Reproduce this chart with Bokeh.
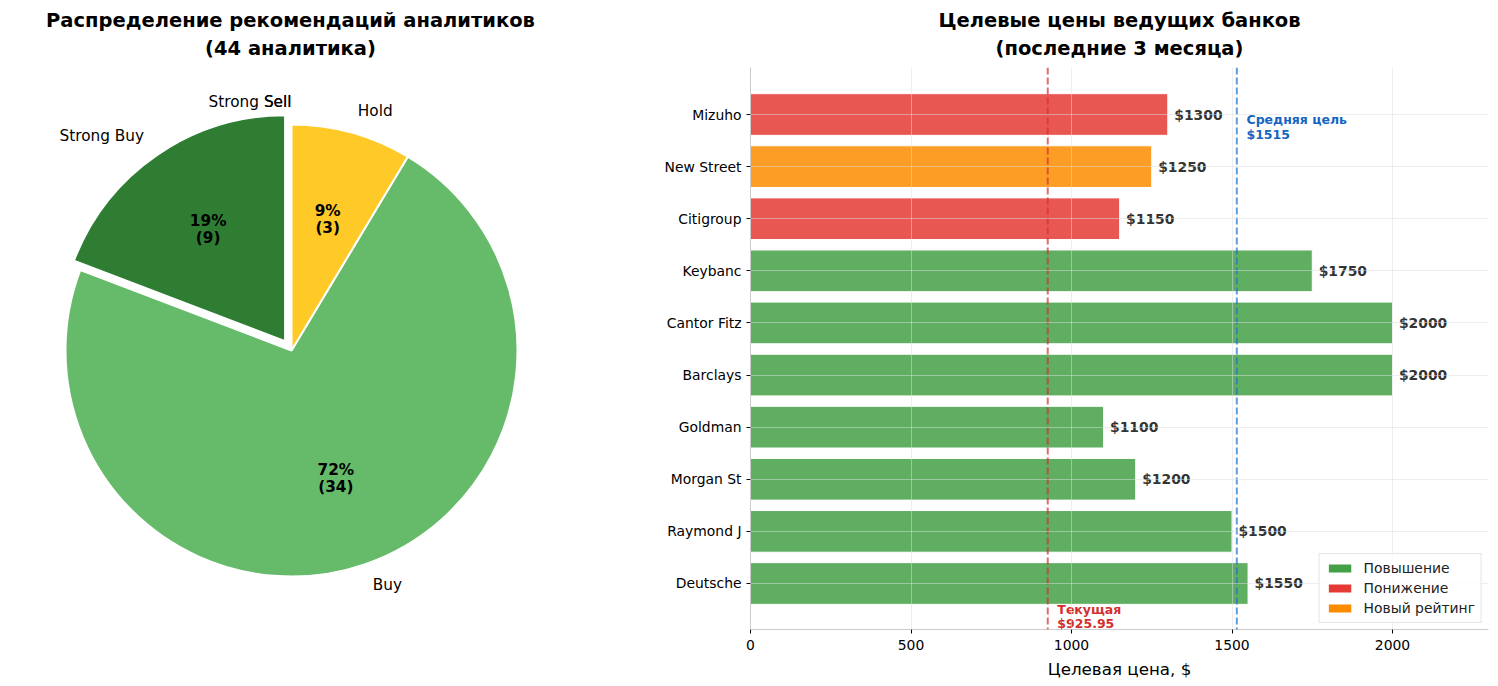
import math
from bokeh.plotting import figure
from bokeh.layouts import row
from bokeh.models import Range1d, FixedTicker, Span, Legend, LegendItem, Label, Title
from bokeh.embed import file_html
from bokeh.resources import INLINE
from bokeh.core.properties import value

FONT = "DejaVu Sans"

# ---------------- data ----------------
rating_labels = ["Strong Buy", "Buy", "Hold", "Sell", "Strong Sell"]
rating_counts = [9, 34, 3, 0, 0]
rating_shares = [19.2, 72.2, 8.6, 0.0, 0.0]
rating_colors = ["#2e7d32", "#66bb6a", "#ffca28", "#ef5350", "#c62828"]
rating_explode = [0.05, 0, 0, 0, 0]
pie_title = ["Распределение рекомендаций аналитиков", "(44 аналитика)"]

banks = ["Deutsche", "Raymond J", "Morgan St", "Goldman", "Barclays",
         "Cantor Fitz", "Keybanc", "Citigroup", "New Street", "Mizuho"]
targets = [1550, 1500, 1200, 1100, 2000, 2000, 1750, 1150, 1250, 1300]
actions = ["up", "up", "up", "up", "up", "up", "up", "down", "new", "down"]
action_names = {"up": "Повышение", "down": "Понижение", "new": "Новый рейтинг"}
action_colors = {"up": "#43a047", "down": "#e53935", "new": "#fb8c00"}
current_price = 925.95
mean_target = 1515
x_ticks = [0, 500, 1000, 1500, 2000]
bar_title = ["Целевые цены ведущих банков", "(последние 3 месяца)"]
x_label = "Целевая цена, $"

# ---------------- layout constants ----------------
W, H = 1496, 684
LW = 580
RW = W - LW
BORDER_TOP = 67
BORDER_BOTTOM = 55
FRAME_H = H - BORDER_TOP - BORDER_BOTTOM


def add_titles(p, lines):
    # lines are stacked outward from the frame: last line first
    for i, txt in enumerate(reversed(lines)):
        t = Title(text=txt, align="center", text_font=FONT, text_font_size="19.5px",
                  text_font_style="bold", text_color="black",
                  standoff=11 if i == 0 else 0,
                  vertical_align="top" if i == 0 else "bottom")
        p.add_layout(t, "above")


# ---------------- pie ----------------
pie = figure(width=LW, height=H, x_range=Range1d(0, LW), y_range=Range1d(0, FRAME_H),
             output_backend="svg", toolbar_location=None, title=None,
             x_axis_location=None, y_axis_location=None,
             min_border_left=0, min_border_right=0,
             min_border_top=BORDER_TOP, min_border_bottom=BORDER_BOTTOM)
add_titles(pie, pie_title)
pie.grid.visible = False
pie.outline_line_color = None

cx, cy, R = 291, 279, 226
start = math.pi / 2
total = sum(rating_shares)
for lab, cnt, sh, col, ex in zip(rating_labels, rating_counts, rating_shares,
                                 rating_colors, rating_explode):
    ang = 2 * math.pi * sh / total
    end = start + ang
    mid = (start + end) / 2
    ox = cx + ex * R * math.cos(mid)
    oy = cy + ex * R * math.sin(mid)
    if sh > 0:
        pie.wedge(x=[ox], y=[oy], radius=R, start_angle=start, end_angle=end,
                  fill_color=col, line_color="white", line_width=2)
        px = ox + 0.6 * R * math.cos(mid)
        py = oy + 0.6 * R * math.sin(mid)
        pie.text(x=[px, px], y=[py + 8.5, py - 8.5],
                 text=[f"{round(sh)}%", f"({cnt})"],
                 text_align="center", text_baseline="middle",
                 text_font=value(FONT), text_font_size="15.3px",
                 text_font_style="bold", text_color="black")
    lx = ox + 1.1 * R * math.cos(mid)
    ly = oy + 1.1 * R * math.sin(mid)
    align = "left" if math.cos(mid) > 1e-9 else "right"
    pie.text(x=[lx], y=[ly], text=[lab], text_align=align, text_baseline="middle",
             text_font=value(FONT), text_font_size="15.3px", text_color="black")
    start = end

# ---------------- bars ----------------
bar = figure(width=RW, height=H, x_range=Range1d(0, 2299), y_range=Range1d(-0.883, 9.902),
             output_backend="svg", toolbar_location=None, title=None,
             min_border_left=750 - LW, min_border_right=8,
             min_border_top=BORDER_TOP, min_border_bottom=BORDER_BOTTOM)
add_titles(bar, bar_title)
bar.outline_line_color = None

idx = list(range(len(banks)))
cols = [action_colors[a] for a in actions]
bar.hbar(y=idx, right=targets, height=0.8, fill_color=cols, fill_alpha=0.85,
         line_color="white", line_width=1)

bar.text(x=[t + 20 for t in targets], y=idx, text=[f"${t}" for t in targets],
         text_align="left", text_baseline="middle", text_font=value(FONT),
         text_font_size="13.9px", text_font_style="bold", text_color="#333333")

bar.add_layout(Span(location=current_price, dimension="height", line_color="#d32f2f",
                    line_dash="7 3", line_width=2, line_alpha=0.7))
bar.add_layout(Span(location=mean_target, dimension="height", line_color="#1976d2",
                    line_dash="7 3", line_width=2, line_alpha=0.7))

for txt, yy in zip(["Текущая", f"${current_price:.2f}"], [-0.49, -0.76]):
    bar.add_layout(Label(x=current_price + 30, y=yy, text=txt, text_align="left",
                         text_baseline="middle", text_font=FONT, text_font_size="12.5px",
                         text_font_style="bold", text_color="#d32f2f"))
for txt, yy in zip(["Средняя цель", f"${mean_target}"], [8.904, 8.616]):
    bar.add_layout(Label(x=mean_target + 30, y=yy, text=txt, text_align="left",
                         text_baseline="middle", text_font=FONT, text_font_size="12.5px",
                         text_font_style="bold", text_color="#1565c0"))

items = []
for key in ["up", "down", "new"]:
    r = bar.hbar(y=[-100], left=[0], right=[1], height=0.8,
                 fill_color=action_colors[key], line_color=None)
    items.append(LegendItem(label=action_names[key], renderers=[r]))
legend = Legend(items=items, location="bottom_right", glyph_width=28, glyph_height=10,
                label_height=16, spacing=4, padding=6, margin=6, label_standoff=10,
                label_text_font=FONT, label_text_font_size="13.9px",
                label_text_color="#222222", border_line_color="#cccccc",
                background_fill_alpha=0.8)
bar.add_layout(legend)

bar.xaxis.ticker = FixedTicker(ticks=x_ticks)
bar.yaxis.ticker = FixedTicker(ticks=idx)
bar.yaxis.major_label_overrides = {i: b for i, b in enumerate(banks)}
bar.xaxis.axis_label = x_label
for ax in (bar.xaxis, bar.yaxis):
    ax.axis_line_color = "#cccccc"
    ax.major_tick_line_color = "black"
    ax.major_tick_out = 4
    ax.major_tick_in = 0
    ax.minor_tick_line_color = None
    ax.major_label_text_font = FONT
    ax.major_label_text_font_size = "13.9px"
    ax.major_label_text_color = "black"
    ax.major_label_standoff = 5
bar.xaxis.major_label_standoff = 6
bar.xaxis.axis_label_text_font = FONT
bar.xaxis.axis_label_text_font_size = "16.7px"
bar.xaxis.axis_label_text_font_style = "normal"
bar.xaxis.axis_label_text_color = "black"
bar.xaxis.axis_label_standoff = 6

bar.xgrid.ticker = FixedTicker(ticks=x_ticks)
bar.ygrid.ticker = FixedTicker(ticks=idx)
for g in (bar.xgrid, bar.ygrid):
    g.grid_line_color = "#dddddd"
    g.grid_line_alpha = 0.5
    g.level = "overlay"

layout = row(pie, bar)
open("out.html", "w").write(file_html(layout, INLINE))
